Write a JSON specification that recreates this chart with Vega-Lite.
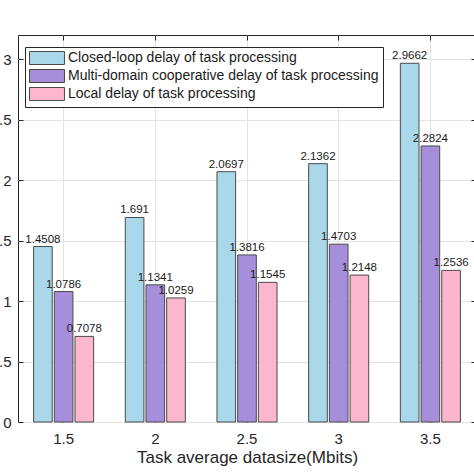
{
  "$schema": "https://vega.github.io/schema/vega-lite/v6.json",
  "width": 458,
  "height": 387,
  "autosize": {"type": "none"},
  "padding": {"left": 18, "top": 35, "right": 0, "bottom": 52},
  "background": "white",
  "config": {
    "font": "Liberation Sans",
    "view": {"stroke": "#262626", "strokeWidth": 1},
    "axis": {
      "labelFont": "Liberation Sans",
      "titleFont": "Liberation Sans",
      "labelColor": "#262626",
      "titleColor": "#262626",
      "tickColor": "#262626",
      "domainColor": "#262626",
      "gridColor": "#e3e3e3",
      "gridWidth": 1,
      "labelFontSize": 15,
      "titleFontSize": 17,
      "titleFontWeight": "normal"
    }
  },
  "data": {
    "values": [
      {"size": 1.5, "series": "Closed-loop delay of task processing", "delay": 1.4508},
      {"size": 1.5, "series": "Multi-domain cooperative delay of task processing", "delay": 1.0786},
      {"size": 1.5, "series": "Local delay of task processing", "delay": 0.7078},
      {"size": 2, "series": "Closed-loop delay of task processing", "delay": 1.691},
      {"size": 2, "series": "Multi-domain cooperative delay of task processing", "delay": 1.1341},
      {"size": 2, "series": "Local delay of task processing", "delay": 1.0259},
      {"size": 2.5, "series": "Closed-loop delay of task processing", "delay": 2.0697},
      {"size": 2.5, "series": "Multi-domain cooperative delay of task processing", "delay": 1.3816},
      {"size": 2.5, "series": "Local delay of task processing", "delay": 1.1545},
      {"size": 3, "series": "Closed-loop delay of task processing", "delay": 2.1362},
      {"size": 3, "series": "Multi-domain cooperative delay of task processing", "delay": 1.4703},
      {"size": 3, "series": "Local delay of task processing", "delay": 1.2148},
      {"size": 3.5, "series": "Closed-loop delay of task processing", "delay": 2.9662},
      {"size": 3.5, "series": "Multi-domain cooperative delay of task processing", "delay": 2.2824},
      {"size": 3.5, "series": "Local delay of task processing", "delay": 1.2536}
    ]
  },
  "encoding": {
    "x": {
      "field": "size",
      "type": "ordinal",
      "scale": {"paddingInner": 0.345, "paddingOuter": 0.17}
    },
    "xOffset": {
      "field": "series",
      "type": "nominal",
      "sort": [
        "Closed-loop delay of task processing",
        "Multi-domain cooperative delay of task processing",
        "Local delay of task processing"
      ],
      "scale": {"paddingInner": 0.1, "paddingOuter": 0}
    },
    "y": {
      "field": "delay",
      "type": "quantitative",
      "scale": {"domain": [0, 3.2], "nice": false, "zero": true}
    }
  },
  "layer": [
    {
      "mark": {"type": "bar", "stroke": "#4a4a4a", "strokeWidth": 1},
      "encoding": {
        "x": {
          "field": "size",
          "type": "ordinal",
          "axis": {
            "orient": "bottom",
            "title": "Task average datasize(Mbits)",
            "labelAngle": 0,
            "bandPosition": 0.5,
            "grid": true,
            "domain": false,
            "tickSize": -5,
            "labelPadding": 14,
            "titlePadding": 3
          }
        },
        "y": {
          "field": "delay",
          "type": "quantitative",
          "axis": {
            "orient": "left",
            "title": null,
            "values": [0, 0.5, 1, 1.5, 2, 2.5, 3],
            "format": "~g",
            "grid": true,
            "domain": false,
            "tickSize": -5,
            "labelPadding": 12
          }
        },
        "color": {
          "field": "series",
          "type": "nominal",
          "scale": {
            "domain": [
              "Closed-loop delay of task processing",
              "Multi-domain cooperative delay of task processing",
              "Local delay of task processing"
            ],
            "range": ["#a8d8ea", "#a58fda", "#fcb7ce"]
          },
          "legend": {
            "orient": "none",
            "legendX": 7,
            "legendY": 12,
            "title": null,
            "symbolType": "M-1,-1H4.38V1H-1Z",
            "symbolSize": 169,
            "symbolStrokeColor": "#4a4a4a",
            "symbolStrokeWidth": 1,
            "symbolOpacity": 1,
            "labelFont": "Liberation Sans",
            "labelFontSize": 14,
            "labelColor": "#1a1a1a",
            "labelOffset": 25,
            "labelLimit": 400,
            "rowPadding": 0,
            "padding": 4,
            "strokeColor": "#262626",
            "fillColor": "white"
          }
        }
      }
    },
    {
      "mark": {
        "type": "text",
        "baseline": "bottom",
        "align": "center",
        "dy": -2,
        "fontSize": 11.5,
        "font": "Liberation Sans",
        "color": "#1a1a1a"
      },
      "encoding": {
        "text": {"field": "delay", "type": "quantitative", "format": ""},
        "x": {
          "field": "size",
          "type": "ordinal",
          "axis": {
            "orient": "top",
            "title": null,
            "labels": false,
            "bandPosition": 0.5,
            "grid": false,
            "domain": false,
            "tickSize": -5
          }
        },
        "y": {
          "field": "delay",
          "type": "quantitative",
          "axis": {
            "orient": "right",
            "title": null,
            "labels": false,
            "values": [0, 0.5, 1, 1.5, 2, 2.5, 3],
            "grid": false,
            "domain": false,
            "tickSize": -5
          }
        }
      }
    }
  ],
  "resolve": {"axis": {"x": "independent", "y": "independent"}}
}
